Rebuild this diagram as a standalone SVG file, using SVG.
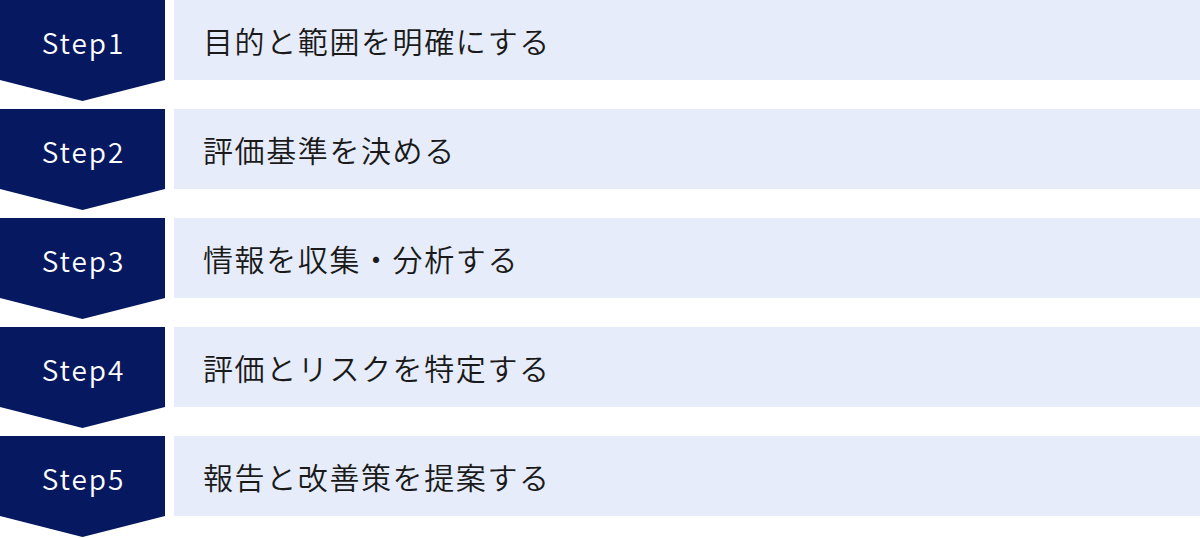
<svg xmlns="http://www.w3.org/2000/svg" width="1200" height="538" viewBox="0 0 1200 538">
<style>
.badge{fill:#06185f}
.bar{fill:#e6ecf9}
.st{font-family:"Noto Sans CJK JP","Noto Sans",sans-serif;font-size:28px;font-weight:350;fill:#ffffff;text-anchor:middle;letter-spacing:2px}
.lb{font-family:"Noto Sans CJK JP","Noto Sans",sans-serif;font-size:30px;font-weight:350;fill:#1a1a1a;letter-spacing:1.6px;dominant-baseline:central}
</style>
<defs>
<path id="chev" d="M0,0 H165 V80 L82.5,101 L0,80 Z"/>
</defs>
<g id="connectors"></g>
<g id="step1" transform="translate(0,0)">
<use href="#chev" class="badge"/>
<rect class="bar" x="174" y="0" width="1026" height="80"/>
<text class="st" x="83.5" y="53.5">Step1</text>
<text class="lb" x="203" y="40">目的と範囲を明確にする</text>
</g>
<g id="step2" transform="translate(0,109)">
<use href="#chev" class="badge"/>
<rect class="bar" x="174" y="0" width="1026" height="80"/>
<text class="st" x="83.5" y="53.5">Step2</text>
<text class="lb" x="203" y="40">評価基準を決める</text>
</g>
<g id="step3" transform="translate(0,218)">
<use href="#chev" class="badge"/>
<rect class="bar" x="174" y="0" width="1026" height="80"/>
<text class="st" x="83.5" y="53.5">Step3</text>
<text class="lb" x="203" y="40">情報を収集・分析する</text>
</g>
<g id="step4" transform="translate(0,327)">
<use href="#chev" class="badge"/>
<rect class="bar" x="174" y="0" width="1026" height="80"/>
<text class="st" x="83.5" y="53.5">Step4</text>
<text class="lb" x="203" y="40">評価とリスクを特定する</text>
</g>
<g id="step5" transform="translate(0,436)">
<use href="#chev" class="badge"/>
<rect class="bar" x="174" y="0" width="1026" height="80"/>
<text class="st" x="83.5" y="53.5">Step5</text>
<text class="lb" x="203" y="40">報告と改善策を提案する</text>
</g>
</svg>
